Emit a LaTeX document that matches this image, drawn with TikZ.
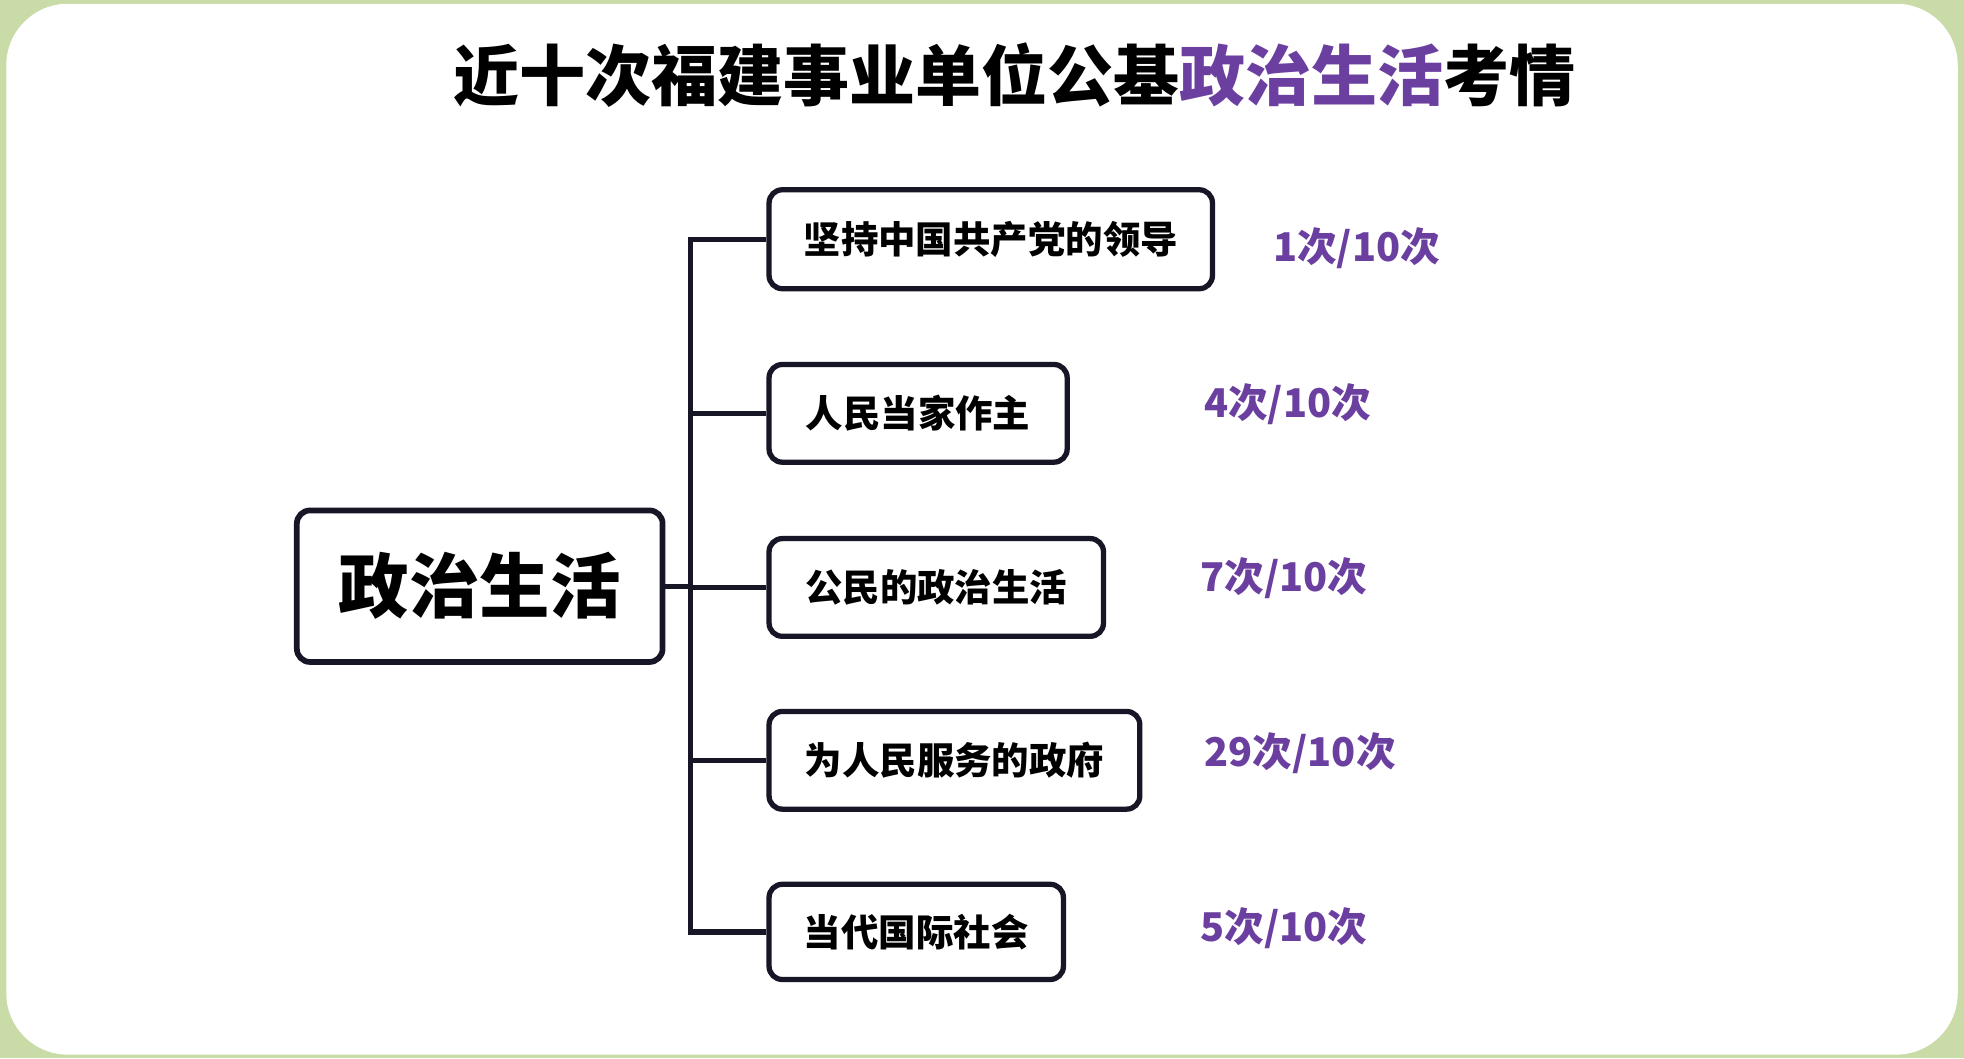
\documentclass[tikz,border=0pt]{standalone}
\usepackage{fontspec}
\setmainfont{Noto Sans CJK SC}
\definecolor{bggreen}{HTML}{C9DBA6}
\definecolor{topicpurple}{HTML}{6B3FA0}
\definecolor{boxline}{HTML}{161626}
\begin{document}
\begin{tikzpicture}[x=0.1mm,y=-0.1mm,
  box/.style={draw=boxline, line width=1.2pt, rounded corners=3pt, fill=white, inner sep=0pt, font=\fontsize{8.5}{10}\selectfont\bfseries},
  count/.style={text=topicpurple, font=\fontsize{9}{10}\selectfont\bfseries},
  branch/.style={draw=boxline, line width=1.2pt}]

% background
\fill[bggreen] (0,0) rectangle (1568,845);
\fill[white, rounded corners=14pt] (5,3) rectangle (1563,842);
\useasboundingbox (0,0) rectangle (1568,845);

% title
\node (title) at (810,60) {\fontsize{15}{16}\selectfont\bfseries 近十次福建事业单位公基\textcolor{topicpurple}{政治生活}考情};

% main topic
\node[box, line width=1.3pt, minimum width=29.2mm, minimum height=12.1mm, font=\fontsize{16}{18}\selectfont\bfseries] (main) at (383,468) {政治生活};
\coordinate (trunk) at (551,468);

% branches
\node[box, minimum width=35.4mm, minimum height=7.9mm] (c1) at (791,191) {坚持中国共产党的领导};
\node[box, minimum width=23.8mm, minimum height=7.8mm] (c2) at (733,330) {人民当家作主};
\node[box, minimum width=26.7mm, minimum height=7.8mm] (c3) at (747.5,469) {公民的政治生活};
\node[box, minimum width=29.6mm, minimum height=7.8mm] (c4) at (762,607) {为人民服务的政府};
\node[box, minimum width=23.5mm, minimum height=7.6mm] (c5) at (731.5,744) {当代国际社会};

\draw[branch] (main) -- (trunk);
\foreach \c in {c1,c2,c3,c4,c5}
  \draw[branch] (trunk) |- (\c.west);

% counts
\node[count] (n1) at (1083,198) {1次/10次};
\node[count] (n2) at (1028,323) {4次/10次};
\node[count] (n3) at (1025,462) {7次/10次};
\node[count] (n4) at (1038,601) {29次/10次};
\node[count] (n5) at (1025,741) {5次/10次};

\end{tikzpicture}
\end{document}
